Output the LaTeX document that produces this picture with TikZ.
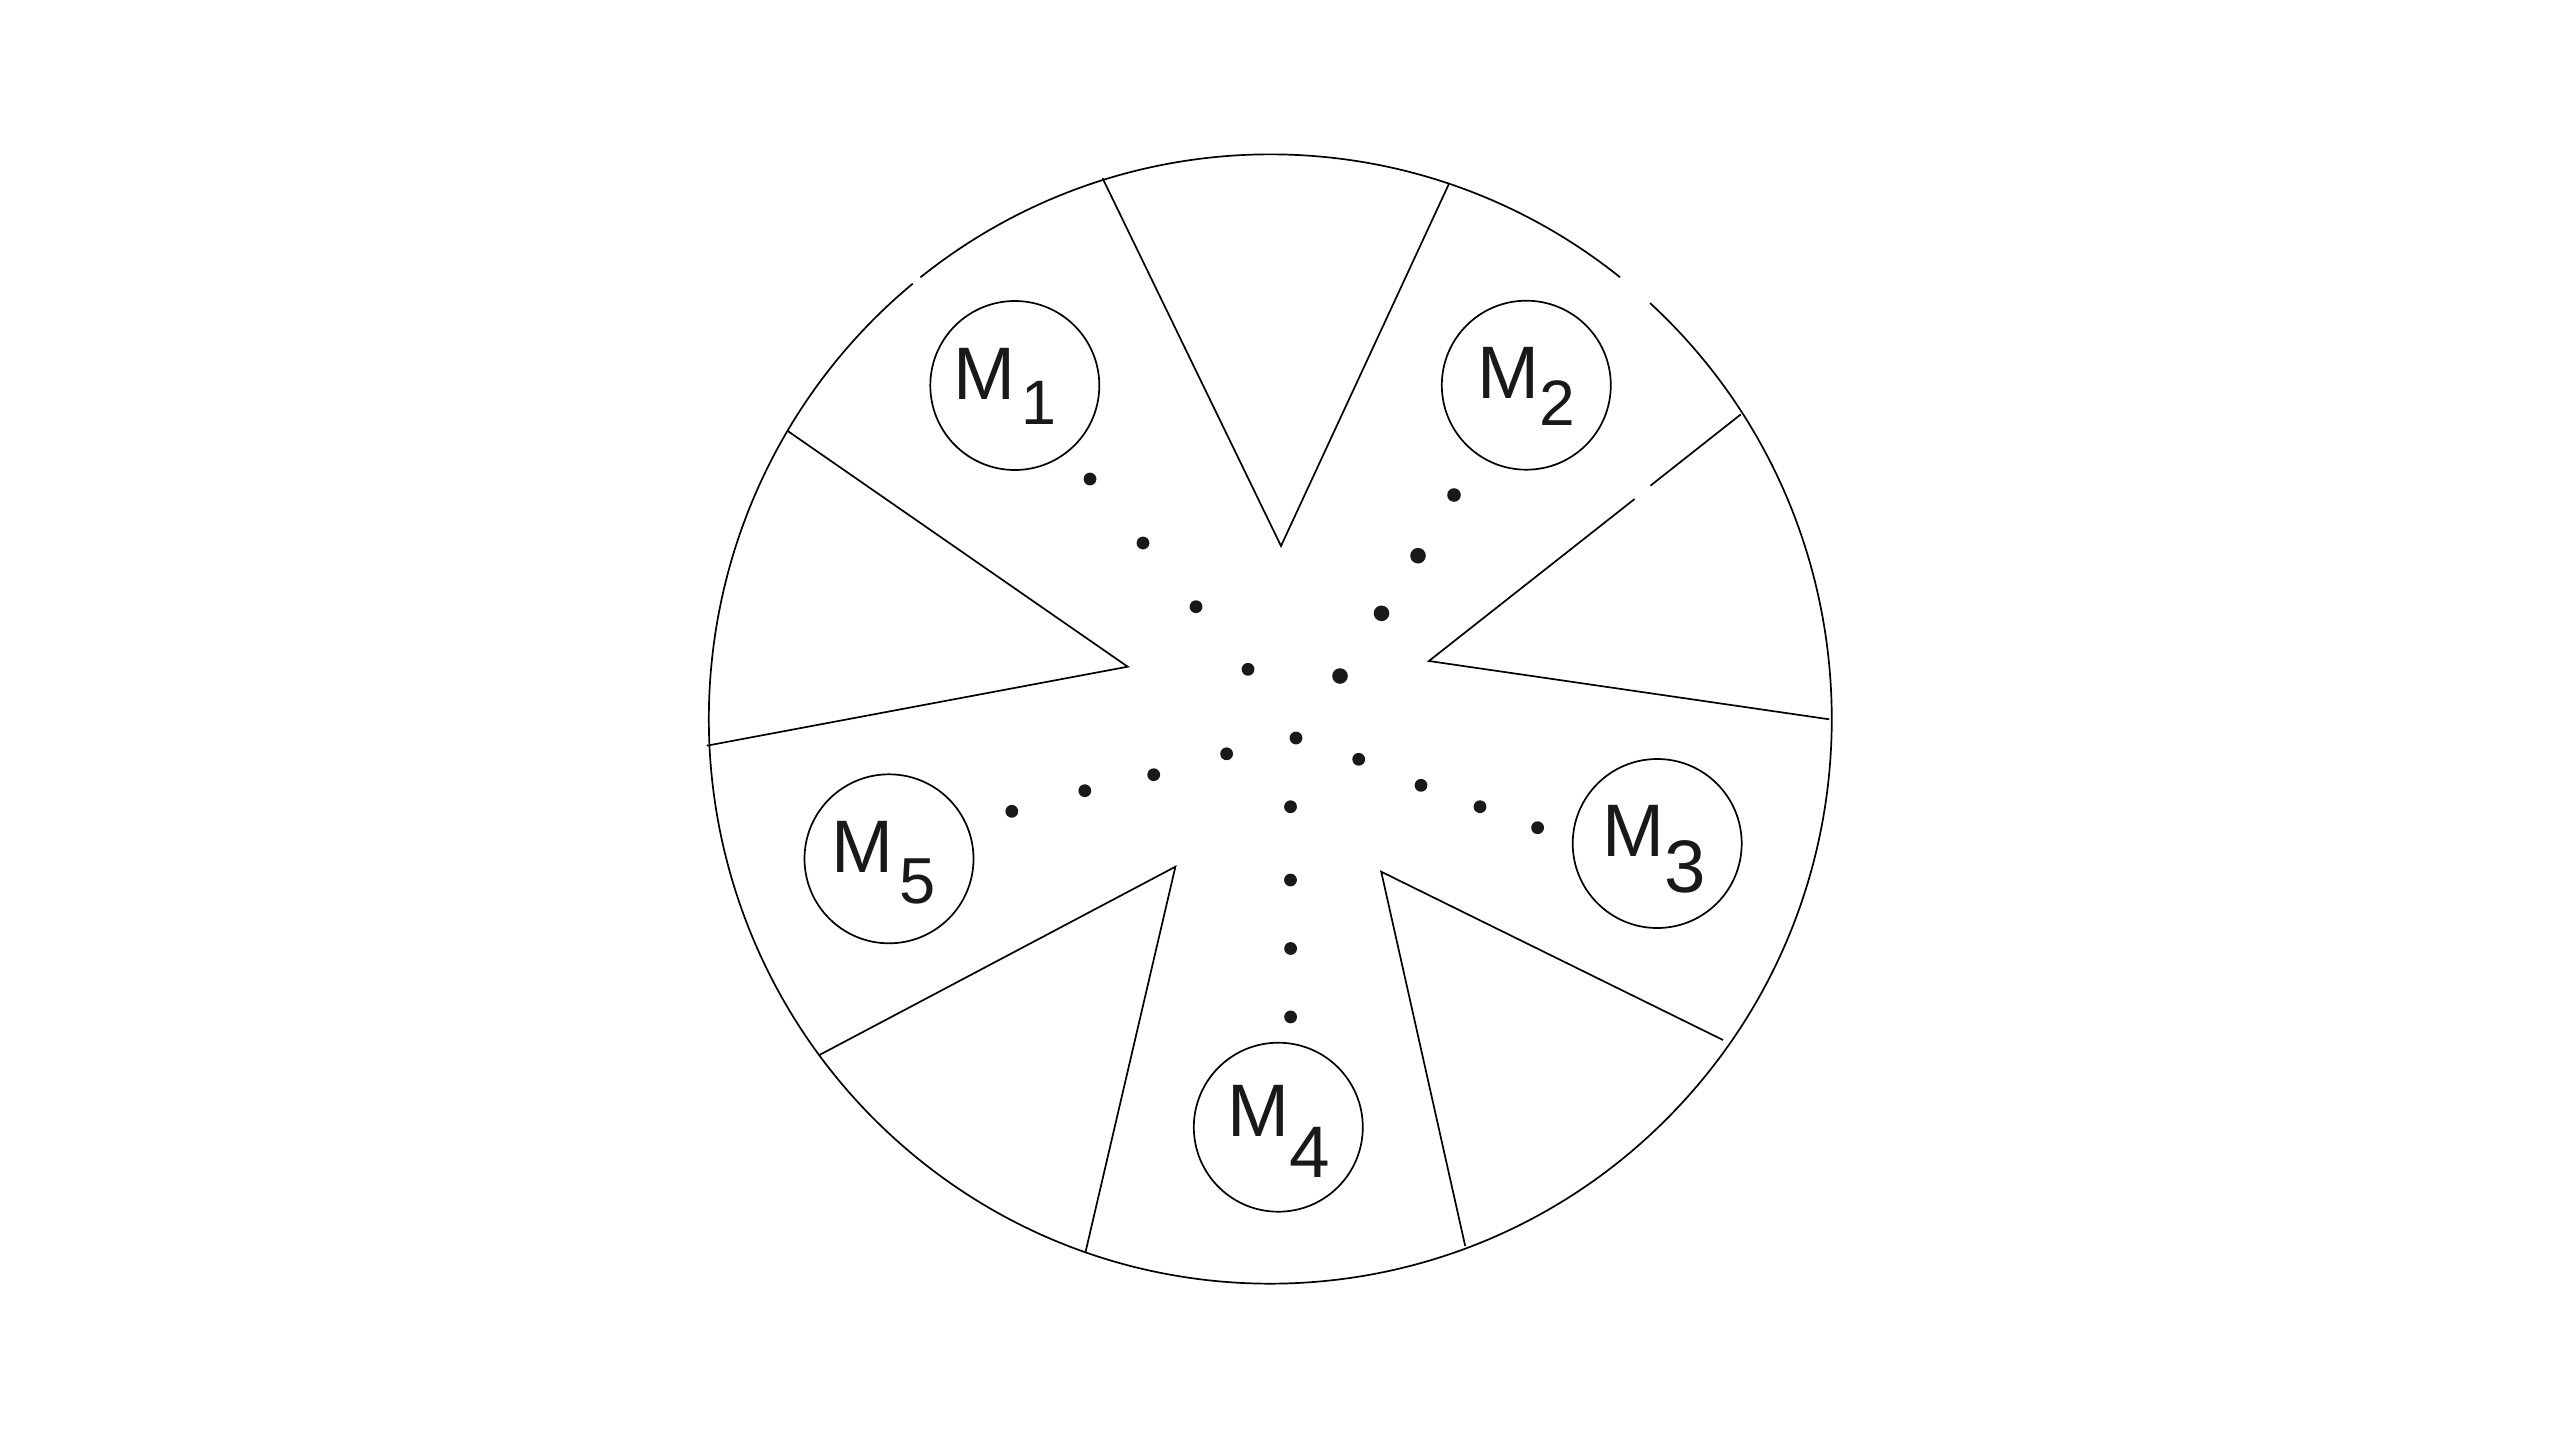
\documentclass[tikz,border=0pt]{standalone}
\usepackage{fontspec}
\setmainfont{Liberation Sans}
% #1 digit, #2 digit size, #3 lowering, #4 kern M-digit, #5 trailing kern, #6 strut height
\newcommand\Mlabel[6]{\rule{0pt}{#6}M\kern#4{\fontsize{#2}{#2}\selectfont\raisebox{-#3}{#1}}\kern#5}
\begin{document}
\begin{tikzpicture}[x=0.5pt,y=-0.5pt,
  rim/.style={line width=0.85pt},
  spoke/.style={line width=0.85pt, line join=miter},
  mnode/.style={draw, circle, line width=0.85pt, minimum size=84.5pt, inner sep=0pt,
                font=\fontsize{37.2pt}{40pt}\selectfont, text=black!90},
  dotfill/.style={fill=black!90}]
\fill[white] (0,0) rectangle (2560,1440);
\useasboundingbox (0,0) rectangle (2560,1440);

% outer rim (with its two small breaks)
\coordinate (C) at (1270.3,719);
\draw[rim] (C) ++(-128.54:561.5 and 564.7)
  arc[start angle=-128.54, end angle=-51.47, x radius=561.5, y radius=564.7];
\draw[rim] (C) ++(-47.44:561.5 and 564.7)
  arc[start angle=-47.44, end angle=230.44, x radius=561.5, y radius=564.7];

% wedge corners
\coordinate (A1) at (1102.6,178.3); \coordinate (A0) at (1281,546);   \coordinate (A2) at (1449.2,183.3);
\coordinate (B1) at (1740.9,414.3); \coordinate (B0) at (1428.9,661); \coordinate (B2) at (1829.2,719.3);
\coordinate (Bg1) at (1650.4,485.7); \coordinate (Bg2) at (1634.6,499);
\coordinate (C1) at (1723,1040);    \coordinate (C0) at (1381.2,871.7); \coordinate (C2) at (1465.2,1246);
\coordinate (D1) at (819.4,1055);   \coordinate (D0) at (1175.4,866.7); \coordinate (D2) at (1085.6,1251.7);
\coordinate (E1) at (787.3,430.7);  \coordinate (E0) at (1127.7,666.7); \coordinate (E2) at (706.7,745.7);

\draw[spoke] (A1) -- (A0) -- (A2);
\draw[spoke] (B1) -- (Bg1);
\draw[spoke] (Bg2) -- (B0) -- (B2);
\draw[spoke] (C1) -- (C0) -- (C2);
\draw[spoke] (D1) -- (D0) -- (D2);
\draw[spoke] (E1) -- (E0) -- (E2);

% labelled circles
\node[mnode] (M1) at (1014.8,385.5) {\Mlabel{1}{31.4pt}{12.85pt}{3pt}{9.4pt}{26.6pt}};
\node[mnode] (M2) at (1526.3,385.2) {\Mlabel{2}{32.1pt}{13.35pt}{0pt}{0pt}{26.6pt}};
\node[mnode] (M3) at (1657.2,843.5) {\Mlabel{3}{37.2pt}{18pt}{0pt}{3.2pt}{31.6pt}};
\node[mnode] (M4) at (1278.3,1127.2) {\Mlabel{4}{36.5pt}{20.8pt}{0pt}{0pt}{29.6pt}};
\node[mnode] (M5) at (889,858.8) {\Mlabel{5}{32.5pt}{15.4pt}{3pt}{5pt}{29.3pt}};

% dotted chains
\foreach \x/\y/\r in {
  1090/479/6.4, 1143/543/6.4, 1196/606.7/6.4, 1248/669.3/6.4,
  1454/495/6.8, 1418/555.7/7.8, 1381.5/613.3/7.8, 1340/676/7.8,
  1296/738/6.4,
  1226.6/753.8/6.4, 1153.7/774.7/6.4, 1084.8/790.7/6.4, 1011.8/811.3/6.4,
  1358.7/759.3/6.4, 1421/785.3/6.4, 1480/806.7/6.4, 1537.6/827.7/6.4,
  1290.5/806.7/6.4, 1290.5/880/6.4, 1290.6/948.5/6.4, 1290.6/1016.9/6.4}
  \fill[dotfill] (\x,\y) circle[radius=\r];
\end{tikzpicture}
\end{document}
